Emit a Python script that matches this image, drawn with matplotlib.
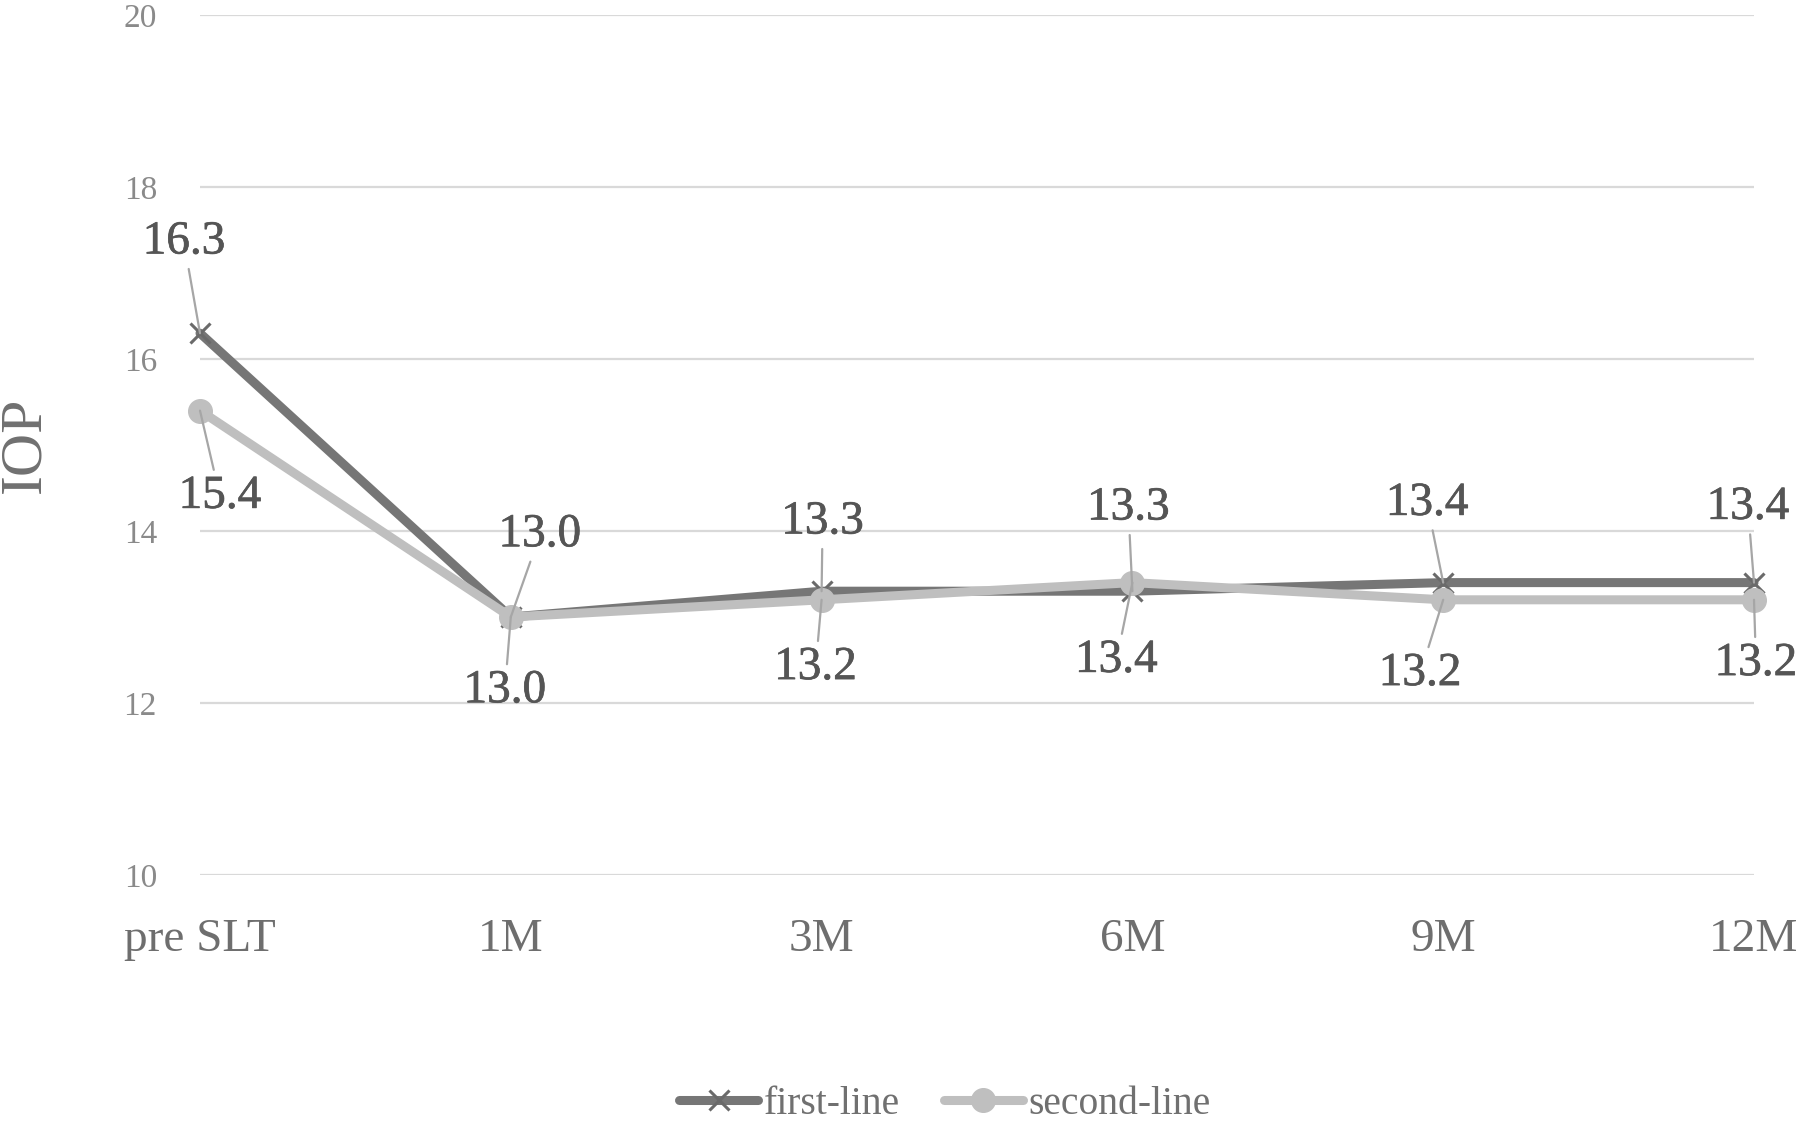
import matplotlib
matplotlib.use("Agg")
import matplotlib.pyplot as plt
import matplotlib.patheffects as pe

categories = ["pre SLT", "1M", "3M", "6M", "9M", "12M"]
first_line = [16.3, 13.0, 13.3, 13.3, 13.4, 13.4]
second_line = [15.4, 13.0, 13.2, 13.4, 13.2, 13.2]
y_ticks = [10, 12, 14, 16, 18, 20]

# label offsets in pixels (dx, dy) relative to point
first_off = [(-16, 91), (29, 82), (1, 69), (-4, 83), (-16, 79), (-6, 75)]
second_off = [(20, -86), (-6, -74), (-6, -68), (-16, -78), (-23, -74), (2, -64)]

W, H = 1800, 1123
fig = plt.figure(figsize=(W / 100, H / 100), dpi=100)
ax = fig.add_axes([200 / W, 1 - 875 / H, (1754 - 200) / W, (875 - 15) / H])

serif = ["Liberation Serif", "DejaVu Serif"]
x = list(range(len(categories)))

ax.set_xlim(0, len(categories) - 1)
ax.set_ylim(10, 20)
ax.set_yticks(y_ticks)
ax.set_xticks(x)
ax.set_xticklabels(categories, fontsize=34, color="#6e6e6e", family=serif)
ax.set_yticklabels([str(v) for v in y_ticks], fontsize=24, color="#8a8a8a", family=serif)
ax.tick_params(axis="both", length=0)
ax.tick_params(axis="y", pad=31)
ax.tick_params(axis="x", pad=31)
for s in ax.spines.values():
    s.set_visible(False)
ax.grid(axis="y", color="#d9d9d9", linewidth=1.6)
ax.set_axisbelow(True)

l1, = ax.plot(x, first_line, color="#767676", linewidth=6.5, marker="x",
              markersize=15, markeredgewidth=2.2, markeredgecolor="#6a6a6a",
              solid_capstyle="round", label="first-line", zorder=3,
              clip_on=False)
l2, = ax.plot(x, second_line, color="#bfbfbf", linewidth=6.5, marker="o",
              markersize=17, markeredgecolor="#bfbfbf", markerfacecolor="#bfbfbf",
              solid_capstyle="round", label="second-line", zorder=4,
              clip_on=False)

for vals, offs in ((first_line, first_off), (second_line, second_off)):
    for xi, (v, (dx, dy)) in enumerate(zip(vals, offs)):
        t = ax.annotate(f"{v:.1f}", xy=(xi, v), xytext=(dx * 0.72, dy * 0.72),
                        textcoords="offset points", ha="center", va="center",
                        fontsize=34, color="#555555", family=serif,
                        arrowprops=dict(arrowstyle="-", color="#a6a6a6", lw=1.6,
                                        shrinkA=2, shrinkB=0),
                        zorder=6, annotation_clip=False)
        t.set_path_effects([pe.withStroke(linewidth=0.5, foreground="#555555")])

fig.text(25 / W, 1 - 445 / H, "IOP", rotation=90, ha="center", va="center",
         fontsize=43, color="#707070", family=serif)

fig.legend(handles=[l1, l2], loc="center", bbox_to_anchor=(945 / W, 1 - 1104 / H),
           ncol=2, frameon=False, prop={"family": serif, "size": 28.5},
           labelcolor="#707070", handlelength=2.0, handletextpad=0.15,
           columnspacing=1.1, borderpad=0.1)

fig.savefig("out.png", dpi=100)
